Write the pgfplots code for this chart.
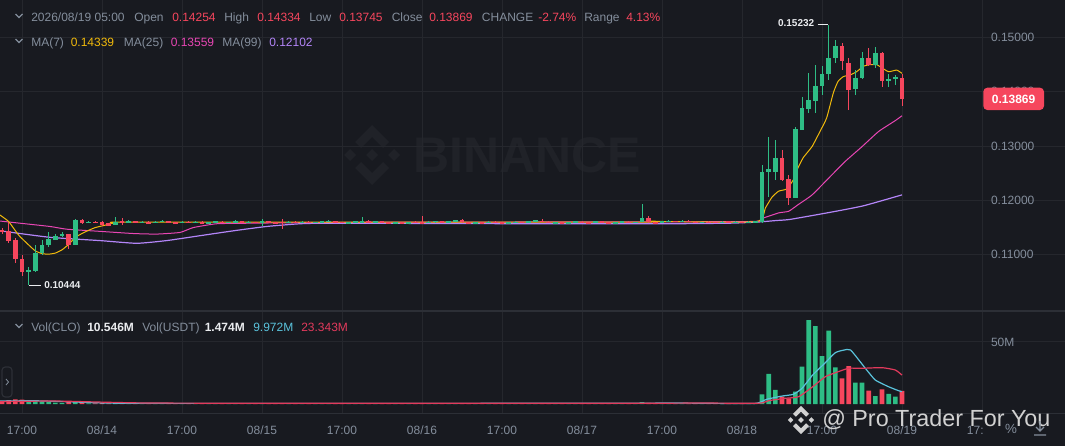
\documentclass[border=0pt]{standalone}
\usepackage{fontspec}
\setmainfont{Liberation Sans}
\usepackage{pgfplots}
\usepackage{pgfplotstable}
\pgfplotsset{compat=1.18}

\definecolor{bgc}{HTML}{181A20}
\definecolor{gridc}{HTML}{25272D}
\definecolor{sepc}{HTML}{2C2F36}
\definecolor{cup}{HTML}{2EBD85}
\definecolor{cdn}{HTML}{F6465D}
\definecolor{cmaa}{HTML}{F0B90B}
\definecolor{cmab}{HTML}{E846B4}
\definecolor{cmac}{HTML}{B385F8}
\definecolor{vcy}{HTML}{5AC3DC}
\definecolor{vrd}{HTML}{E23A5C}
\definecolor{lbl}{HTML}{848E9C}
\definecolor{wmc}{HTML}{202228}
\definecolor{whc}{HTML}{EAECEF}

\pgfplotstableread{
x O H L C V
0 0.11450 0.11500 0.11380 0.11440 2.0
1 0.11440 0.11610 0.11210 0.11260 3.2
2 0.11270 0.11300 0.10850 0.10920 3.8
3 0.10920 0.11000 0.10610 0.10680 3.5
4 0.10680 0.10770 0.10444 0.10720 2.6
5 0.10700 0.11180 0.10690 0.11040 3.0
6 0.11030 0.11270 0.10990 0.11180 2.2
7 0.11170 0.11410 0.11140 0.11290 1.8
8 0.11280 0.11380 0.11270 0.11350 1.2
9 0.11340 0.11420 0.11320 0.11380 1.0
10 0.11380 0.11390 0.11100 0.11180 1.6
11 0.11180 0.11650 0.11170 0.11640 2.4
12 0.11640 0.11650 0.11560 0.11580 1.0
13 0.11590 0.11620 0.11585 0.11610 0.6
14 0.11610 0.11625 0.11590 0.11595 0.5
15 0.11610 0.11615 0.11530 0.11545 0.7
16 0.11580 0.11590 0.11525 0.11535 0.6
17 0.11555 0.11700 0.11550 0.11610 0.8
18 0.11620 0.11680 0.11545 0.11600 0.6
19 0.11600 0.11640 0.11590 0.11615 0.5
20 0.11615 0.11625 0.11585 0.11590 0.4
21 0.11590 0.11620 0.11575 0.11605 0.5
22 0.11605 0.11615 0.11570 0.11580 0.6
23 0.11580 0.11625 0.11575 0.11610 0.5
24 0.11610 0.11640 0.11595 0.11620 0.4
25 0.11620 0.11630 0.11585 0.11595 0.5
26 0.11595 0.11610 0.11570 0.11585 0.4
27 0.11585 0.11620 0.11580 0.11605 0.3
28 0.11605 0.11620 0.11580 0.11590 0.4
29 0.11590 0.11615 0.11585 0.11600 0.3
30 0.11600 0.11625 0.11575 0.11580 0.5
31 0.11580 0.11605 0.11570 0.11600 0.4
32 0.11600 0.11615 0.11585 0.11610 0.3
33 0.11610 0.11620 0.11580 0.11590 0.4
34 0.11590 0.11610 0.11580 0.11600 0.3
35 0.11600 0.11630 0.11590 0.11615 0.4
36 0.11615 0.11620 0.11585 0.11595 0.5
37 0.11595 0.11615 0.11590 0.11600 0.3
38 0.11600 0.11610 0.11580 0.11590 0.4
39 0.11590 0.11650 0.11530 0.11615 0.7
40 0.11615 0.11620 0.11590 0.11600 0.4
41 0.11600 0.11610 0.11575 0.11585 0.4
42 0.11605 0.11650 0.11480 0.11590 0.8
43 0.11590 0.11615 0.11585 0.11605 0.4
44 0.11605 0.11615 0.11590 0.11595 0.3
45 0.11595 0.11620 0.11590 0.11610 0.4
46 0.11610 0.11615 0.11580 0.11590 0.3
47 0.11590 0.11605 0.11585 0.11600 0.3
48 0.11600 0.11620 0.11590 0.11610 0.4
49 0.11610 0.11640 0.11600 0.11620 0.4
50 0.11620 0.11625 0.11590 0.11600 0.3
51 0.11600 0.11610 0.11580 0.11590 0.4
52 0.11590 0.11610 0.11570 0.11595 0.3
53 0.11595 0.11625 0.11585 0.11615 0.4
54 0.11600 0.11700 0.11595 0.11620 0.6
55 0.11620 0.11630 0.11590 0.11600 0.4
56 0.11600 0.11620 0.11595 0.11615 0.3
57 0.11615 0.11625 0.11585 0.11590 0.4
58 0.11595 0.11610 0.11575 0.11585 0.3
59 0.11585 0.11600 0.11570 0.11595 0.3
60 0.11595 0.11605 0.11565 0.11575 0.4
61 0.11575 0.11610 0.11570 0.11600 0.4
62 0.11600 0.11615 0.11580 0.11590 0.3
63 0.11600 0.11720 0.11570 0.11585 0.7
64 0.11585 0.11615 0.11580 0.11610 0.4
65 0.11610 0.11620 0.11595 0.11615 0.3
66 0.11615 0.11620 0.11580 0.11590 0.4
67 0.11590 0.11625 0.11585 0.11620 0.4
68 0.11620 0.11640 0.11600 0.11635 0.5
69 0.11635 0.11660 0.11590 0.11600 0.5
70 0.11600 0.11610 0.11570 0.11580 0.4
71 0.11580 0.11600 0.11570 0.11595 0.3
72 0.11595 0.11605 0.11580 0.11590 0.3
73 0.11590 0.11615 0.11585 0.11610 0.3
74 0.11610 0.11620 0.11585 0.11595 0.4
75 0.11595 0.11605 0.11575 0.11580 0.3
76 0.11580 0.11610 0.11575 0.11600 0.3
77 0.11600 0.11615 0.11590 0.11605 0.3
78 0.11605 0.11610 0.11580 0.11590 0.4
79 0.11590 0.11620 0.11585 0.11615 0.3
80 0.11615 0.11640 0.11595 0.11630 0.5
81 0.11630 0.11665 0.11595 0.11605 0.5
82 0.11605 0.11615 0.11580 0.11590 0.4
83 0.11590 0.11600 0.11570 0.11595 0.3
84 0.11595 0.11605 0.11580 0.11585 0.3
85 0.11585 0.11610 0.11580 0.11600 0.3
86 0.11600 0.11615 0.11590 0.11610 0.4
87 0.11610 0.11615 0.11585 0.11595 0.3
88 0.11595 0.11610 0.11580 0.11590 0.3
89 0.11590 0.11620 0.11585 0.11615 0.4
90 0.11615 0.11625 0.11590 0.11600 0.3
91 0.11600 0.11605 0.11575 0.11585 0.4
92 0.11585 0.11610 0.11580 0.11600 0.3
93 0.11600 0.11620 0.11595 0.11610 0.4
94 0.11610 0.11615 0.11585 0.11590 0.3
95 0.11590 0.11610 0.11580 0.11600 0.4
96 0.11600 0.11940 0.11595 0.11680 1.6
97 0.11680 0.11720 0.11590 0.11600 1.0
98 0.11600 0.11610 0.11560 0.11575 0.5
99 0.11580 0.11625 0.11575 0.11615 0.4
100 0.11615 0.11640 0.11600 0.11625 0.5
101 0.11625 0.11630 0.11595 0.11605 0.4
102 0.11605 0.11640 0.11600 0.11630 0.4
103 0.11630 0.11635 0.11600 0.11610 0.3
104 0.11610 0.11620 0.11590 0.11595 0.3
105 0.11595 0.11610 0.11585 0.11605 0.3
106 0.11605 0.11615 0.11590 0.11600 0.3
107 0.11600 0.11610 0.11585 0.11595 0.3
108 0.11595 0.11615 0.11590 0.11610 0.4
109 0.11610 0.11620 0.11595 0.11600 0.3
110 0.11600 0.11615 0.11590 0.11605 0.3
111 0.11605 0.11610 0.11585 0.11595 0.4
112 0.11595 0.11615 0.11590 0.11605 0.4
113 0.11605 0.11620 0.11580 0.11610 0.6
114 0.11610 0.12660 0.11590 0.12530 7.8
115 0.12520 0.13160 0.12070 0.12580 24.2
116 0.12530 0.13120 0.12380 0.12780 11.3
117 0.12780 0.12930 0.12350 0.12380 5.9
118 0.12390 0.12470 0.11910 0.12040 4.6
119 0.12040 0.13360 0.12040 0.13320 9.9
120 0.13300 0.13910 0.13300 0.13710 30.1
121 0.13690 0.14340 0.13610 0.13850 67.7
122 0.13830 0.14500 0.13610 0.14100 62.9
123 0.14100 0.14470 0.13940 0.14330 38.7
124 0.14330 0.15232 0.14220 0.14620 59.1
125 0.14620 0.14960 0.14530 0.14850 29.6
126 0.14850 0.14900 0.14400 0.14560 20.7
127 0.14530 0.14620 0.13670 0.14040 30.6
128 0.14060 0.14400 0.13940 0.14260 17.2
129 0.14250 0.14740 0.14240 0.14630 17.2
130 0.14620 0.14800 0.14470 0.14500 10.7
131 0.14500 0.14830 0.14440 0.14710 6.4
132 0.14710 0.14740 0.14080 0.14190 11.8
133 0.14190 0.14330 0.14080 0.14240 8.1
134 0.14230 0.14310 0.14130 0.14280 5.9
135 0.14254 0.14334 0.13745 0.13869 10.546
}\candles

\pgfplotsset{
  chart/.style={
    scale only axis, width=798.75pt,
    xmin=-0.3, xmax=159.45,
    axis line style={draw=none}, tick style={draw=none},
    xtick={3,15,...,147},
    xmajorgrids, ymajorgrids,
    grid style={gridc, line width=0.75pt},
    /pgf/number format/assume math mode=true,
    tick label style={font=\fontsize{9}{10}\selectfont, text=lbl},
  },
  candlewick/.style={draw=none, mark=none, forget plot,
     error bars/.cd, y dir=both, y explicit, error mark=none,
     error bar style={line width=0.75pt, draw=#1}},
  candlebody/.style={draw=none, mark=none, forget plot,
     error bars/.cd, y dir=both, y explicit, error mark=none,
     error bar style={line width=3.5pt, draw=#1}},
}

\newcommand\hf{\fontsize{9}{10}\selectfont}
\newcommand\binlogo{%
  \fill (0,-6) -- (6,0) -- (0,6) -- (-6,0) -- cycle;
  \fill (-22,-6) -- (-16,0) -- (-22,6) -- (-28,0) -- cycle;
  \fill (22,-6) -- (28,0) -- (22,6) -- (16,0) -- cycle;
  \fill (0,-30) -- (17,-13) -- (11,-7) -- (0,-18) -- (-11,-7) -- (-17,-13) -- cycle;
  \fill (0,30) -- (17,13) -- (11,7) -- (0,18) -- (-11,7) -- (-17,13) -- cycle;
}

\begin{document}
\begin{tikzpicture}
\useasboundingbox (0pt,0pt) rectangle (798.75pt,-334.5pt);
\fill[bgc] (0pt,0pt) rectangle (798.75pt,-334.5pt);

% watermark
\begin{scope}[x=0.75pt,y=-0.75pt]
  \begin{scope}[shift={(372,155)}, wmc]
    \binlogo
  \end{scope}
  \node[anchor=west, inner sep=0, text=wmc, font=\fontsize{37.5}{40}\selectfont\bfseries] at (413,155) {BINANCE};
\end{scope}

% price panel
\begin{axis}[chart, at={(0pt,0pt)}, anchor=north west, height=233.25pt,
  ymin=0.099632, ymax=0.156906,
  ytick={0.11,0.12,0.13,0.14,0.15},
  yticklabels={0.11000,0.12000,0.13000,0.14000,0.15000},
  yticklabel pos=right,
  yticklabel style={anchor=west, xshift=-59pt},
  xticklabels={}]
  % MA lines
  \addplot[cmac, line width=0.9pt, smooth, tension=0.3] coordinates {
    (-0.3,0.1144) (7.2,0.1132) (14.7,0.1126) (20.2,0.1121) (24.7,0.1126) (29.7,0.1135)
    (34.7,0.1144) (39.7,0.1152) (44.7,0.1157) (49.7,0.1158) (80,0.1157) (100,0.1157)
    (109,0.1158) (113.2,0.1160) (116.2,0.1163) (118.2,0.1165) (124.2,0.1178)
    (129.2,0.1190) (135,0.12102)};
  \addplot[cmab, line width=0.75pt, smooth, tension=0.3] coordinates {
    (-0.3,0.1162) (2.7,0.1158) (7.2,0.1152) (9.7,0.1147) (14.7,0.1143) (19.7,0.1139)
    (23.2,0.1138) (26.7,0.1141) (28.7,0.1150) (32.2,0.1157) (37.2,0.1158) (45,0.1159)
    (60,0.1160) (111.4,0.1161) (114,0.1167) (116.5,0.1177) (118,0.1180) (119.4,0.1192)
    (121.5,0.1210) (124,0.1241) (126.5,0.1272) (129,0.1299) (131.5,0.1327) (134,0.1347)
    (135,0.13559)};
  \addplot[cmaa, line width=0.75pt, smooth, tension=0.3] coordinates {
    (-0.3,0.1173) (1,0.1161) (2.5,0.1136) (4,0.1118) (5,0.1107) (6,0.1102) (7,0.1101)
    (8,0.1103) (9,0.1109) (10,0.1119) (11,0.1132) (12,0.1139) (13,0.1145) (14,0.1150)
    (15,0.1153) (16,0.1156) (17,0.1159) (20,0.1160) (95,0.1160) (97,0.1162) (100,0.1161)
    (113.2,0.1161) (114.5,0.1186) (115.5,0.1206) (116.5,0.1217) (117.7,0.1221)
    (118.7,0.1238) (119.4,0.1260) (120.2,0.1279) (121.5,0.1299) (122.7,0.1327)
    (123.7,0.1352) (124.7,0.1398) (125.4,0.1419) (126.2,0.1428) (127.2,0.1431)
    (128.2,0.1437) (129.2,0.1447) (130.2,0.1450) (131.2,0.1450) (132,0.1444)
    (133,0.1437) (134.2,0.1440) (135,0.14339)};
  % candles
  \addplot[restrict expr to domain={\thisrow{C}-\thisrow{O}}{0:1}, candlewick=cup]
    table[x=x, y expr={(\thisrow{H}+\thisrow{L})/2}, y error expr={(\thisrow{H}-\thisrow{L})/2}] {\candles};
  \addplot[restrict expr to domain={\thisrow{C}-\thisrow{O}}{0:1}, candlebody=cup]
    table[x=x, y expr={(\thisrow{O}+\thisrow{C})/2}, y error expr={max(abs(\thisrow{C}-\thisrow{O})/2,0.00007)}] {\candles};
  \addplot[restrict expr to domain={\thisrow{C}-\thisrow{O}}{-1:-0.000001}, candlewick=cdn]
    table[x=x, y expr={(\thisrow{H}+\thisrow{L})/2}, y error expr={(\thisrow{H}-\thisrow{L})/2}] {\candles};
  \addplot[restrict expr to domain={\thisrow{C}-\thisrow{O}}{-1:-0.000001}, candlebody=cdn]
    table[x=x, y expr={(\thisrow{O}+\thisrow{C})/2}, y error expr={max(abs(\thisrow{C}-\thisrow{O})/2,0.00007)}] {\candles};
\end{axis}

% volume panel
\begin{axis}[chart, at={(0pt,-234pt)}, anchor=north west, height=75.75pt,
  ymin=-7.258, ymax=74.19,
  ytick={50}, yticklabels={50M},
  yticklabel pos=right,
  yticklabel style={anchor=west, xshift=-59pt},
  xticklabels={17:00,08/14,17:00,08/15,17:00,08/16,17:00,08/17,17:00,08/18,17:00,08/19,17:00},
  xticklabel style={yshift=-6pt}]
  \addplot[ybar, bar width=3.5pt, bar shift=0pt, fill=cup, draw=none, forget plot,
    restrict expr to domain={\thisrow{C}-\thisrow{O}}{0:1}] table[x=x, y=V] {\candles};
  \addplot[ybar, bar width=3.5pt, bar shift=0pt, fill=cdn, draw=none, forget plot,
    restrict expr to domain={\thisrow{C}-\thisrow{O}}{-1:-0.000001}] table[x=x, y=V] {\candles};
  \addplot[vcy, line width=0.9pt, smooth, tension=0.3] coordinates {
    (-0.3,2.4) (5,2.6) (10,1.8) (14,1.0) (18,0.6) (30,0.5) (60,0.5) (95,0.6) (100,0.9)
    (105,0.6) (113,0.5) (114.7,3.8) (117,6.4) (118.7,7.8) (120,12.6) (121.6,23.4)
    (123.4,32.8) (125,41.4) (126.3,43.5) (127.3,43.5) (129.5,28.8) (131,19.3) (133,13.9)
    (134.5,10.7) (135,9.972)};
  \addplot[vrd, line width=0.9pt, smooth, tension=0.3] coordinates {
    (-0.3,2.0) (8,2.4) (15,1.5) (22,0.8) (40,0.6) (95,0.6) (105,0.8) (113.5,0.6)
    (115,2.7) (117.5,4.6) (119.5,5.9) (121.6,13.9) (123.5,22.0) (125,25.2) (127,28.8)
    (129,28.8) (132,29.3) (134,27.4) (135,23.343)};
\end{axis}

\begin{scope}[x=0.75pt,y=-0.75pt]
  % separators
  \draw[sepc, line width=1.2pt] (0,311) -- (1065,311);
  \draw[sepc, line width=1.2pt] (0,413.5) -- (1065,413.5);
  % cover for bottom right scale area
  \fill[bgc] (983,414.5) rectangle (1065,446);
  % header row 1
  \draw[lbl, line width=0.8pt] (15.5,14) -- (19,17.5) -- (22.5,14);
  \begin{scope}[every node/.style={anchor=base west, inner sep=0, font=\hf}]
    \node[text=lbl] at (31,21.3) {2026/08/19 05:00};
    \node[text=lbl] at (134,21.3) {Open};
    \node[text=cdn] at (172,21.3) {0.14254};
    \node[text=lbl] at (224,21.3) {High};
    \node[text=cdn] at (257,21.3) {0.14334};
    \node[text=lbl] at (309,21.3) {Low};
    \node[text=cdn] at (339,21.3) {0.13745};
    \node[text=lbl] at (391.5,21.3) {Close};
    \node[text=cdn] at (429,21.3) {0.13869};
    \node[text=lbl] at (481.7,21.3) {CHANGE};
    \node[text=cdn] at (538,21.3) {-2.74\%};
    \node[text=lbl] at (584,21.3) {Range};
    \node[text=cdn] at (626,21.3) {4.13\%};
    % row 2
    \node[text=lbl] at (31,46.3) {MA(7)};
    \node[text=cmaa] at (70.5,46.3) {0.14339};
    \node[text=lbl] at (123.7,46.3) {MA(25)};
    \node[text=cmab] at (170.5,46.3) {0.13559};
    \node[text=lbl] at (222,46.3) {MA(99)};
    \node[text=cmac] at (269,46.3) {0.12102};
    % volume header
    \node[text=lbl] at (31,331.3) {Vol(CLO)};
    \node[text=whc, font=\hf\bfseries] at (87,331.3) {10.546M};
    \node[text=lbl] at (142,331.3) {Vol(USDT)};
    \node[text=whc, font=\hf\bfseries] at (204.5,331.3) {1.474M};
    \node[text=vcy] at (253,331.3) {9.972M};
    \node[text=vrd] at (301,331.3) {23.343M};
  \end{scope}
  \draw[lbl, line width=0.8pt] (15.5,39) -- (19,42.5) -- (22.5,39);
  \draw[lbl, line width=0.8pt] (15.5,324) -- (19,327.5) -- (22.5,324);
  % high / low annotations
  \draw[whc, line width=0.75pt] (817.7,24.9) -- (828.3,24.9);
  \node[anchor=east, inner sep=0, text=whc, font=\fontsize{7.5}{8}\selectfont\bfseries] at (814.5,23.5) {0.15232};
  \draw[whc, line width=0.75pt] (29.3,285) -- (40.7,285);
  \node[anchor=west, inner sep=0, text=whc, font=\fontsize{7.5}{8}\selectfont\bfseries] at (44,285) {0.10444};
  % price tag
  \fill[cdn, rounded corners=3pt] (983.3,87.7) rectangle (1044,110);
  \node[inner sep=0, text=white, font=\hf\bfseries] at (1013.6,99) {0.13869};
  % left button
  \draw[sepc, line width=0.9pt, rounded corners=2.5pt] (2,367) rectangle (12,397);
  \draw[lbl, line width=0.6pt] (6,379) -- (8.5,382) -- (6,385);
  % bottom right
  \begin{scope}[shift={(801,420)}, scale=0.47, fill=white!82!black]
    \binlogo
  \end{scope}
  \node[anchor=west, inner sep=0, text=white!82!black, font=\fontsize{17.5}{20}\selectfont] at (822,420) {@ Pro Trader For You};
  \node[inner sep=0, text=lbl, font=\fontsize{10}{12}\selectfont] at (1011,429) {\%};
  \draw[lbl, line width=0.9pt] (1040,421) -- (1040,431) (1036,427) -- (1040,431) -- (1044,427) (1034,435) -- (1046,435);
\end{scope}
\end{tikzpicture}
\end{document}
